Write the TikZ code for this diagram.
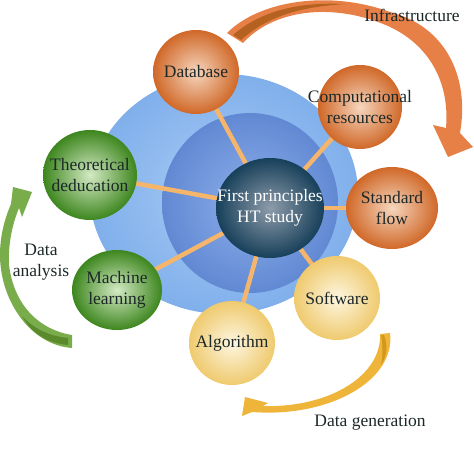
\documentclass[tikz,border=0pt]{standalone}
\usepackage{fontspec}
\setmainfont{Liberation Serif}
\usepackage{tikz}
\usetikzlibrary{positioning}
\usetikzlibrary{shapes.geometric}
\usetikzlibrary{backgrounds}
\definecolor{txtcol}{HTML}{1C2828}
\definecolor{bigIn}{HTML}{A9CCF6}
\definecolor{bigOut}{HTML}{80AFEB}
\definecolor{midIn}{HTML}{8DAEEA}
\definecolor{midOut}{HTML}{6189D3}
\definecolor{hubIn}{HTML}{8E9CAA}
\definecolor{hubOut}{HTML}{17405A}
\definecolor{orIn}{HTML}{F6D6BE}
\definecolor{orOut}{HTML}{D06828}
\definecolor{grIn}{HTML}{D4EAC4}
\definecolor{grOut}{HTML}{3D861E}
\definecolor{yeIn}{HTML}{FDF6E0}
\definecolor{yeOut}{HTML}{EFCA6E}
\definecolor{linkcol}{HTML}{F5B56B}
\definecolor{arOr}{HTML}{E68047}
\definecolor{arOrDk}{HTML}{B5611F}
\definecolor{arGr}{HTML}{79AC4A}
\definecolor{arGrDk}{HTML}{5A8A2C}
\definecolor{arYe}{HTML}{EEB53A}
\definecolor{arYeDk}{HTML}{D3981A}

\begin{document}
\begin{tikzpicture}[x=1pt,y=1pt,on grid,
  font=\fontsize{17.5}{21}\selectfont,
  ball/.style={ellipse, minimum width=86pt, minimum height=84pt, inner sep=0pt,
    shading=radial},
  orball/.style={ball, inner color=orIn, outer color=orOut},
  grball/.style={ball, inner color=grIn, outer color=grOut},
  yeball/.style={ball, inner color=yeIn, outer color=yeOut},
  hubball/.style={ball, minimum width=108pt, minimum height=100pt,
    inner color=hubIn, outer color=hubOut},
  link/.style={draw=linkcol, line width=4.5pt},
  lbl/.style={text=txtcol, align=center}]
\useasboundingbox (0,0) rectangle (474,456);

\node[hubball, label={[lbl, text=white]center:{First principles\\HT study}}] (core) at (270,248) {};
\node[orball, above left=136pt and 74pt of core, label={[lbl]center:Database}] (n11) {};
\node[orball, above right=101pt and 90pt of core, minimum width=84pt,
  label={[lbl]center:{Computational\\resources}}] (n12) {};
\node[orball, right=122pt of core, minimum width=92pt, minimum height=82pt,
  label={[lbl]center:{Standard\\flow}}] (n13) {};
\node[yeball, below right=90pt and 67pt of core, label={[lbl]center:Software}] (n14) {};
\node[yeball, below left=135pt and 38pt of core, label={[lbl]center:Algorithm}] (n15) {};
\node[grball, below left=82pt and 153pt of core, minimum width=90pt, minimum height=80pt,
  label={[lbl]center:{Machine\\learning}}] (n16) {};
\node[grball, above left=33pt and 180pt of core, minimum width=94pt, minimum height=90pt,
  label={[lbl]center:{Theoretical\\deducation}}] (n17) {};

\begin{pgfonlayer}{background}
  \shade[inner color=bigIn, outer color=bigOut] (224,262) ellipse [x radius=134, y radius=120];
  \shade[inner color=midIn, outer color=midOut] (250,253) ellipse [x radius=88, y radius=90];
  \foreach \i in {11,...,17}
    \draw[link] (core.center) -- (n\i.center);
\end{pgfonlayer}

% infrastructure
\fill[arOr] (227,423) .. controls (260,456) and (330,466) .. (390,444)
  .. controls (445,430) and (470,380) .. (460,323)
  -- (473,309) -- (448,299) -- (433,331) -- (446,328)
  .. controls (450,375) and (428,412) .. (388,430)
  .. controls (330,455) and (272,445) .. (243,413) -- cycle;
\fill[arOrDk] (233,421) .. controls (262,446) and (300,454) .. (345,452)
  .. controls (300,449) and (268,440) .. (241,416) -- cycle;
\node[lbl] (infra) at (412,441) {Infrastructure};

% data analysis
\fill[arGr] (72,108) .. controls (30,111) and (0,156) .. (0,201)
  .. controls (0,221) and (5,238) .. (11,252)
  -- (13,269) -- (32,264) -- (22,239) -- (19,248)
  .. controls (12,231) and (8,211) .. (9,191)
  .. controls (14,150) and (40,126) .. (72,121) -- cycle;
\fill[arGrDk] (68,111) .. controls (45,113) and (30,125) .. (22,140)
  .. controls (33,128) and (48,120) .. (68,118) -- cycle;
\node[lbl] (ana) at (41,194) {Data\\analysis};

% data generation
\fill[arYe] (390,123) .. controls (396,76) and (330,38) .. (252,44)
  -- (242,40) -- (245,59) -- (268,53) -- (263,50)
  .. controls (330,48) and (382,81) .. (380,122) -- cycle;
\fill[arYeDk] (384,121) .. controls (388,110) and (387,100) .. (381,91)
  .. controls (383,102) and (383,112) .. (381,121) -- cycle;
\node[lbl] (gen) at (370,33) {Data generation};
\end{tikzpicture}
\end{document}
